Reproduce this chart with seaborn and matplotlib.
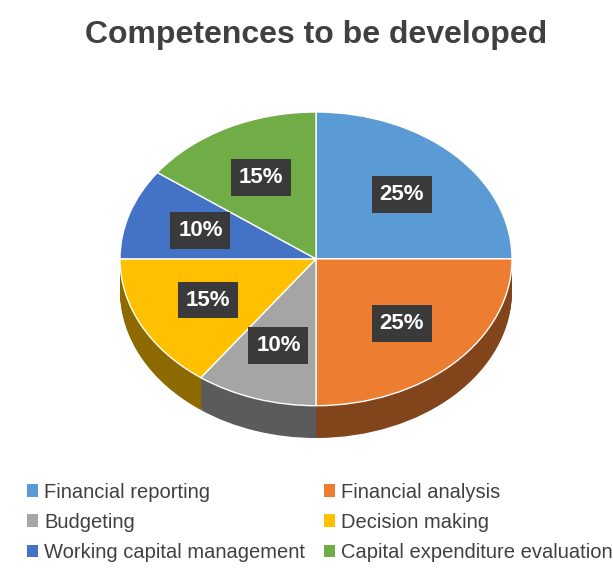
import matplotlib
matplotlib.use("Agg")
import matplotlib.pyplot as plt
import matplotlib.colors as mcolors
from matplotlib.patches import Patch
import seaborn as sns

sns.set_theme(style="white")
plt.rcParams['font.family'] = ['Liberation Sans', 'DejaVu Sans']

labels = ["Financial reporting", "Financial analysis", "Budgeting",
          "Decision making", "Working capital management", "Capital expenditure evaluation"]
shares = [25, 25, 10, 15, 10, 15]
colors = ["#5B9BD5", "#ED7D31", "#A5A5A5", "#FFC000", "#4472C4", "#70AD47"]

fig = plt.figure(figsize=(6.13, 5.77), dpi=100)
ax = fig.add_axes([120 / 613, (577 - 438) / 577, 392 / 613, 326 / 577])

depth = 0.22
dark = [tuple(c * 0.55 for c in mcolors.to_rgb(col)) for col in colors]
n = 25
for i in range(n, 0, -1):
    d = depth * i / n
    ax.pie(shares, colors=dark, startangle=90, counterclock=False,
           center=(0, -d), wedgeprops=dict(linewidth=0))

wedges, texts, autotexts = ax.pie(
    shares, colors=colors, startangle=90, counterclock=False,
    autopct="%d%%", pctdistance=0.62,
    wedgeprops=dict(linewidth=1, edgecolor="white"),
    textprops=dict(color="white", fontsize=16, fontweight="bold"))
for t in autotexts:
    t.set_bbox(dict(boxstyle="square,pad=0.35", facecolor="#3a3a3a", edgecolor="none"))

ax.set_aspect("auto")
ax.set_xlim(-1.0, 1.0)
ax.set_ylim(-1.0 - depth, 1.0)
ax.axis("off")

fig.suptitle("Competences to be developed", x=0.515, y=0.965,
             fontsize=23, fontweight="bold", color="#404040")

handles = [Patch(facecolor=c, edgecolor="none") for c in colors]
order = [0, 2, 4, 1, 3, 5]
fig.legend([handles[i] for i in order], [labels[i] for i in order],
           ncol=2, loc="upper left", bbox_to_anchor=(0.015, 0.195),
           frameon=False, fontsize=14.5, handlelength=0.55, handleheight=0.55,
           handletextpad=0.3, columnspacing=0.9, labelspacing=0.55,
           labelcolor="#404040")

fig.savefig("out.png", dpi=100)
